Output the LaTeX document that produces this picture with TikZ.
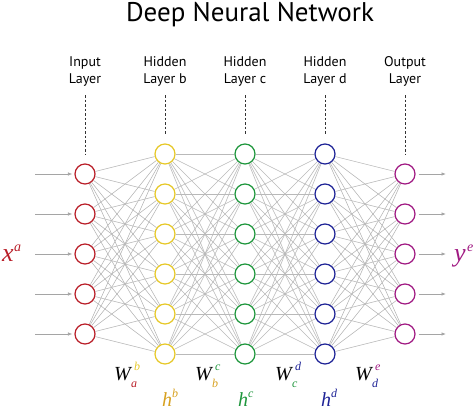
\documentclass[tikz,border=0pt]{standalone}
\usepackage{fontspec}
\setmainfont{Liberation Serif}
\newfontfamily\sansfont{PT Sans}
\usetikzlibrary{arrows.meta,backgrounds}
\definecolor{cA}{RGB}{185,30,40}
\definecolor{cB}{RGB}{230,200,40}
\definecolor{cBt}{RGB}{215,160,30}
\definecolor{cC}{RGB}{30,150,60}
\definecolor{cD}{RGB}{30,35,150}
\definecolor{cE}{RGB}{160,25,130}
\definecolor{edgegray}{RGB}{185,185,185}
\definecolor{arrgray}{RGB}{165,165,165}
\tikzset{
  neuron/.style={circle,draw=#1,line width=1.2pt,fill=white,minimum size=20pt,inner sep=0pt},
  edge/.style={draw=edgegray,line width=0.6pt},
  io/.style={draw=arrgray,line width=0.7pt,-{Latex[length=4.5pt,width=3.5pt]}},
  guide/.style={draw=black!80,line width=1pt,dash pattern=on 2.5pt off 2pt},
  title/.style={font=\sansfont\fontsize{27}{30}\selectfont,anchor=base,inner sep=0pt},
  layerlab/.style={font=\sansfont\fontsize{14}{17}\selectfont,align=center,anchor=base,inner sep=0pt},
  big/.style={font=\itshape\fontsize{26}{28}\selectfont,anchor=base west,inner sep=0pt},
  bigsup/.style={font=\itshape\fontsize{14}{16}\selectfont,anchor=base west,inner sep=0pt},
  wlab/.style={font=\itshape\fontsize{20}{22}\selectfont,anchor=base west,inner sep=0pt},
  wsub/.style={font=\itshape\fontsize{12}{14}\selectfont,anchor=base west,inner sep=0pt},
}
\begin{document}
\begin{tikzpicture}[x=1pt,y=-1pt]
\useasboundingbox (0,0) rectangle (474,410);
% title
\node[title] (title) at (250,21) {Deep Neural Network};
% layer labels
\node[layerlab] (labA) at (85,83) {Input\\Layer};
\node[layerlab] (labB) at (165,83) {Hidden\\Layer b};
\node[layerlab] (labC) at (245,83) {Hidden\\Layer c};
\node[layerlab] (labD) at (325,83) {Hidden\\Layer d};
\node[layerlab] (labE) at (405,83) {Output\\Layer};
% neurons
\foreach \i in {1,...,5} {
  \node[neuron=cA] (a\i) at (85,{134+40*\i}) {};
  \node[neuron=cE] (e\i) at (405,{134+40*\i}) {};
}
\foreach \i in {1,...,6} {
  \node[neuron=cB] (b\i) at (165,{114+40*\i}) {};
  \node[neuron=cC] (c\i) at (245,{114+40*\i}) {};
  \node[neuron=cD] (d\i) at (325,{114+40*\i}) {};
}
% edges
\begin{pgfonlayer}{background}
\foreach \i in {1,...,5} \foreach \j in {1,...,6} {
  \draw[edge] (a\i) -- (b\j);
  \draw[edge] (d\j) -- (e\i);
}
\foreach \i in {1,...,6} \foreach \j in {1,...,6} {
  \draw[edge] (b\i) -- (c\j);
  \draw[edge] (c\i) -- (d\j);
}
\end{pgfonlayer}
% dashed guides
\coordinate (gA) at (85,95);
\coordinate (gB) at (165,95);
\coordinate (gC) at (245,95);
\coordinate (gD) at (325,95);
\coordinate (gE) at (405,95);
\draw[guide,shorten >=9pt] (gA) -- (a1.north);
\draw[guide,shorten >=9pt] (gB) -- (b1.north);
\draw[guide,shorten >=9pt] (gC) -- (c1.north);
\draw[guide,shorten >=9pt] (gD) -- (d1.north);
\draw[guide,shorten >=9pt] (gE) -- (e1.north);
% input / output arrows
\foreach \i in {1,...,5} {
  \coordinate (in\i) at (35,{134+40*\i});
  \coordinate (out\i) at (446,{134+40*\i});
  \draw[io,shorten >=2pt] (in\i) -- (a\i.west);
  \draw[io,shorten <=3pt] (e\i.east) -- (out\i);
}
% x^a and y^e
\node[big,text=cA] (xa) at (2,261) {x};
\node[bigsup,text=cA] (xas) at (14,251) {a};
\node[big,text=cE] (ye) at (454,261) {y};
\node[bigsup,text=cE] (yes) at (467,251) {e};
% weights
\node[wlab] (W1) at (114,380) {W};
\node[wsub,text=cB] (W1s) at (134,370) {b};
\node[wsub,text=cA] (W1b) at (131,387) {a};
\node[wlab] (W2) at (195,380) {W};
\node[wsub,text=cC] (W2s) at (215,370) {c};
\node[wsub,text=cBt] (W2b) at (212,387) {b};
\node[wlab] (W3) at (275,380) {W};
\node[wsub,text=cD] (W3s) at (295,370) {d};
\node[wsub,text=cC] (W3b) at (292,387) {c};
\node[wlab] (W4) at (355,380) {W};
\node[wsub,text=cE] (W4s) at (375,370) {e};
\node[wsub,text=cD] (W4b) at (372,387) {d};
% hidden state labels
\node[wlab,text=cBt] (hb) at (162,406) {h};
\node[wsub,text=cBt] (hbs) at (172,397) {b};
\node[wlab,text=cC] (hc) at (238,406) {h};
\node[wsub,text=cC] (hcs) at (248,397) {c};
\node[wlab,text=cD] (hd) at (321,406) {h};
\node[wsub,text=cD] (hds) at (331,397) {d};
\end{tikzpicture}
\end{document}
